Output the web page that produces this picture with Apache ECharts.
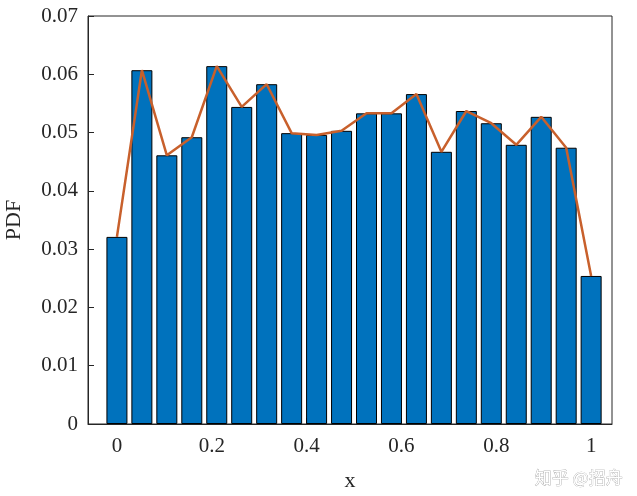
<!DOCTYPE html>
<html>
<head>
<meta charset="utf-8">
<script src="https://cdn.jsdelivr.net/npm/echarts@6/dist/echarts.min.js"></script>
<style>html,body{margin:0;padding:0;background:#fff}#main{width:637px;height:496px}</style>
</head>
<body>
<div id="main"></div>
<script>
var xs = [];
for (var i = 0; i < 20; i++) xs.push(i / 19);
var pdf = [0.0321, 0.0607, 0.0461, 0.0492, 0.0614, 0.0544, 0.0583, 0.0499, 0.0496, 0.0503,
           0.0533, 0.0533, 0.0566, 0.0467, 0.0537, 0.0516, 0.0479, 0.0527, 0.0474, 0.0254];
var xTicks = [0, 0.2, 0.4, 0.6, 0.8, 1];

var pts = xs.map(function(x, i) { return [x, pdf[i]]; });
var font = 'Liberation Serif';

var chart = echarts.init(document.getElementById('main'));
chart.setOption({
    animation: false,
    grid: { left: 88, right: 25, top: 16, bottom: 72, outerBoundsMode: 'none', containLabel: false,
        show: true, borderColor: '#262626', borderWidth: 1 },
    xAxis: {
        type: 'value', min: -0.061, max: 1.044,
        name: 'x', nameLocation: 'middle', nameGap: 46,
        nameTextStyle: { fontFamily: font, fontSize: 22, color: '#262626' },
        axisLine: { onZero: false, lineStyle: { color: '#262626' } },
        axisTick: { inside: true, length: 6, customValues: xTicks, lineStyle: { color: '#262626' } },
        axisLabel: { customValues: xTicks, fontFamily: font, fontSize: 21, color: '#262626', margin: 12 },
        splitLine: { show: false }
    },
    yAxis: {
        type: 'value', min: 0, max: 0.07, interval: 0.01,
        name: 'PDF', nameLocation: 'middle', nameGap: 63,
        nameTextStyle: { fontFamily: font, fontSize: 22, color: '#262626' },
        axisLine: { show: true, onZero: false, lineStyle: { color: '#262626' } },
        axisTick: { inside: true, length: 6, lineStyle: { color: '#262626' } },
        axisLabel: { fontFamily: font, fontSize: 21, color: '#262626', margin: 10,
            formatter: function(v) { return v === 0 ? '0' : v.toFixed(2); } },
        splitLine: { show: false }
    },
    series: [{
        type: 'bar', data: pts, barWidth: 21,
        itemStyle: { color: '#0072BD', borderColor: '#000', borderWidth: 1 }
    }, {
        type: 'line', data: pts, symbol: 'none',
        lineStyle: { color: '#C8602C', width: 2.5 }
    }],
    graphic: [{
        type: 'text', right: 14, bottom: 10,
        style: { text: '知乎 @招舟', font: '17px "Noto Sans CJK SC"', fill: '#ffffff', stroke: '#999', lineWidth: 0.6 }
    }]
});
</script>
</body>
</html>
